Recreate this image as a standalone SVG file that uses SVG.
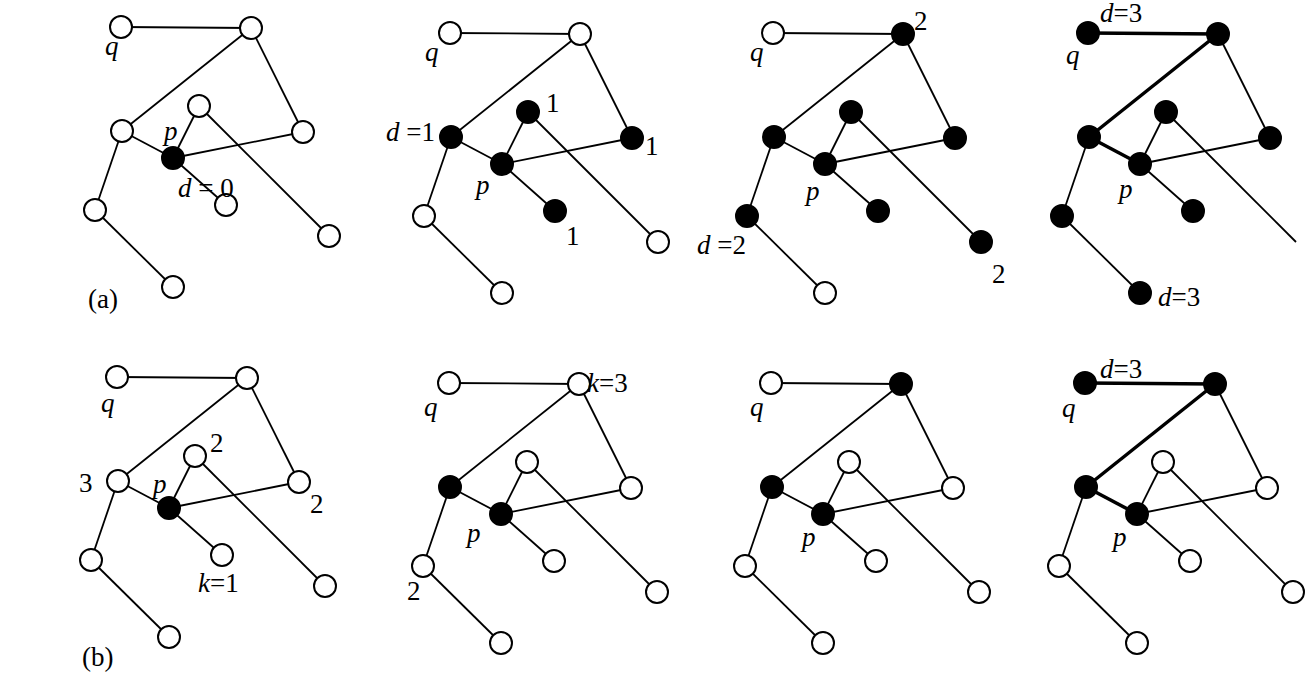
<svg xmlns="http://www.w3.org/2000/svg" width="1313" height="676" viewBox="0 0 1313 676">
<style>
.w{fill:#fff;stroke:#000;stroke-width:2}
.b{fill:#000;stroke:#000;stroke-width:2}
.t{stroke:#000;stroke-width:3.5}
text{font-family:"Liberation Serif",serif;font-size:27px}
.i{font-style:italic}
</style>
<rect width="1313" height="676" fill="#fff"/>
<defs>
<g id="E" stroke="#000" stroke-width="1.8">
<line x1="121" y1="27" x2="251" y2="28"/><line x1="251" y1="28" x2="122" y2="131"/><line x1="251" y1="28" x2="303" y2="132"/><line x1="122" y1="131" x2="95" y2="210"/><line x1="95" y1="210" x2="173" y2="287"/><line x1="122" y1="131" x2="173" y2="158"/><line x1="173" y1="158" x2="199" y2="106"/><line x1="173" y1="158" x2="303" y2="132"/><line x1="173" y1="158" x2="226" y2="205"/><line x1="199" y1="106" x2="329" y2="236"/>
</g>
</defs>
<g id="connectors">
<use href="#E"/>
<use href="#E" transform="translate(329,6)"/>
<use href="#E" transform="translate(652,6)"/>
<use href="#E" transform="translate(967,6)"/>
<use href="#E" transform="translate(-4,350)"/>
<use href="#E" transform="translate(328,356)"/>
<use href="#E" transform="translate(650,356)"/>
<use href="#E" transform="translate(964,356)"/>
<g transform="translate(967,6)"><line class="t" x1="121" y1="27" x2="251" y2="28"/><line class="t" x1="251" y1="28" x2="122" y2="131"/><line class="t" x1="122" y1="131" x2="173" y2="158"/></g>
<g transform="translate(964,356)"><line class="t" x1="121" y1="27" x2="251" y2="28"/><line class="t" x1="251" y1="28" x2="122" y2="131"/><line class="t" x1="122" y1="131" x2="173" y2="158"/></g>
</g>
<g id="a1">
<g id="a1q"><circle class="w" cx="121" cy="27" r="11"/></g><g id="a1T"><circle class="w" cx="251" cy="28" r="11"/></g><g id="a1L"><circle class="w" cx="122" cy="131" r="11"/></g><g id="a1U"><circle class="w" cx="199" cy="106" r="11"/></g><g id="a1p"><circle class="b" cx="173" cy="158" r="11"/></g><g id="a1R"><circle class="w" cx="303" cy="132" r="11"/></g><g id="a1S"><circle class="w" cx="226" cy="205" r="11"/></g><g id="a1LL"><circle class="w" cx="95" cy="210" r="11"/></g><g id="a1RL"><circle class="w" cx="329" cy="236" r="11"/></g><g id="a1B"><circle class="w" cx="173" cy="287" r="11"/></g>
</g>
<g id="a2" transform="translate(329,6)">
<g id="a2q"><circle class="w" cx="121" cy="27" r="11"/></g><g id="a2T"><circle class="w" cx="251" cy="28" r="11"/></g><g id="a2L"><circle class="b" cx="122" cy="131" r="11"/></g><g id="a2U"><circle class="b" cx="199" cy="106" r="11"/></g><g id="a2p"><circle class="b" cx="173" cy="158" r="11"/></g><g id="a2R"><circle class="b" cx="303" cy="132" r="11"/></g><g id="a2S"><circle class="b" cx="226" cy="205" r="11"/></g><g id="a2LL"><circle class="w" cx="95" cy="210" r="11"/></g><g id="a2RL"><circle class="w" cx="329" cy="236" r="11"/></g><g id="a2B"><circle class="w" cx="173" cy="287" r="11"/></g>
</g>
<g id="a3" transform="translate(652,6)">
<g id="a3q"><circle class="w" cx="121" cy="27" r="11"/></g><g id="a3T"><circle class="b" cx="251" cy="28" r="11"/></g><g id="a3L"><circle class="b" cx="122" cy="131" r="11"/></g><g id="a3U"><circle class="b" cx="199" cy="106" r="11"/></g><g id="a3p"><circle class="b" cx="173" cy="158" r="11"/></g><g id="a3R"><circle class="b" cx="303" cy="132" r="11"/></g><g id="a3S"><circle class="b" cx="226" cy="205" r="11"/></g><g id="a3LL"><circle class="b" cx="95" cy="210" r="11"/></g><g id="a3RL"><circle class="b" cx="329" cy="236" r="11"/></g><g id="a3B"><circle class="w" cx="173" cy="287" r="11"/></g>
</g>
<g id="a4" transform="translate(967,6)">
<g id="a4q"><circle class="b" cx="121" cy="27" r="11"/></g><g id="a4T"><circle class="b" cx="251" cy="28" r="11"/></g><g id="a4L"><circle class="b" cx="122" cy="131" r="11"/></g><g id="a4U"><circle class="b" cx="199" cy="106" r="11"/></g><g id="a4p"><circle class="b" cx="173" cy="158" r="11"/></g><g id="a4R"><circle class="b" cx="303" cy="132" r="11"/></g><g id="a4S"><circle class="b" cx="226" cy="205" r="11"/></g><g id="a4LL"><circle class="b" cx="95" cy="210" r="11"/></g><g id="a4B"><circle class="b" cx="173" cy="287" r="11"/></g>
</g>
<g id="b1" transform="translate(-4,350)">
<g id="b1q"><circle class="w" cx="121" cy="27" r="11"/></g><g id="b1T"><circle class="w" cx="251" cy="28" r="11"/></g><g id="b1L"><circle class="w" cx="122" cy="131" r="11"/></g><g id="b1U"><circle class="w" cx="199" cy="106" r="11"/></g><g id="b1p"><circle class="b" cx="173" cy="158" r="11"/></g><g id="b1R"><circle class="w" cx="303" cy="132" r="11"/></g><g id="b1S"><circle class="w" cx="226" cy="205" r="11"/></g><g id="b1LL"><circle class="w" cx="95" cy="210" r="11"/></g><g id="b1RL"><circle class="w" cx="329" cy="236" r="11"/></g><g id="b1B"><circle class="w" cx="173" cy="287" r="11"/></g>
</g>
<g id="b2" transform="translate(328,356)">
<g id="b2q"><circle class="w" cx="121" cy="27" r="11"/></g><g id="b2T"><circle class="w" cx="251" cy="28" r="11"/></g><g id="b2L"><circle class="b" cx="122" cy="131" r="11"/></g><g id="b2U"><circle class="w" cx="199" cy="106" r="11"/></g><g id="b2p"><circle class="b" cx="173" cy="158" r="11"/></g><g id="b2R"><circle class="w" cx="303" cy="132" r="11"/></g><g id="b2S"><circle class="w" cx="226" cy="205" r="11"/></g><g id="b2LL"><circle class="w" cx="95" cy="210" r="11"/></g><g id="b2RL"><circle class="w" cx="329" cy="236" r="11"/></g><g id="b2B"><circle class="w" cx="173" cy="287" r="11"/></g>
</g>
<g id="b3" transform="translate(650,356)">
<g id="b3q"><circle class="w" cx="121" cy="27" r="11"/></g><g id="b3T"><circle class="b" cx="251" cy="28" r="11"/></g><g id="b3L"><circle class="b" cx="122" cy="131" r="11"/></g><g id="b3U"><circle class="w" cx="199" cy="106" r="11"/></g><g id="b3p"><circle class="b" cx="173" cy="158" r="11"/></g><g id="b3R"><circle class="w" cx="303" cy="132" r="11"/></g><g id="b3S"><circle class="w" cx="226" cy="205" r="11"/></g><g id="b3LL"><circle class="w" cx="95" cy="210" r="11"/></g><g id="b3RL"><circle class="w" cx="329" cy="236" r="11"/></g><g id="b3B"><circle class="w" cx="173" cy="287" r="11"/></g>
</g>
<g id="b4" transform="translate(964,356)">
<g id="b4q"><circle class="b" cx="121" cy="27" r="11"/></g><g id="b4T"><circle class="b" cx="251" cy="28" r="11"/></g><g id="b4L"><circle class="b" cx="122" cy="131" r="11"/></g><g id="b4U"><circle class="w" cx="199" cy="106" r="11"/></g><g id="b4p"><circle class="b" cx="173" cy="158" r="11"/></g><g id="b4R"><circle class="w" cx="303" cy="132" r="11"/></g><g id="b4S"><circle class="w" cx="226" cy="205" r="11"/></g><g id="b4LL"><circle class="w" cx="95" cy="210" r="11"/></g><g id="b4RL"><circle class="w" cx="329" cy="236" r="11"/></g><g id="b4B"><circle class="w" cx="173" cy="287" r="11"/></g>
</g>
<g id="labels">
<text x="88" y="308">(a)</text><text x="82" y="666">(b)</text>
<text class="i" x="105" y="55">q</text><text class="i" x="164" y="140">p</text><text x="178" y="197"><tspan class="i">d</tspan> = 0</text>
<text class="i" x="425" y="61">q</text><text x="386" y="141"><tspan class="i">d</tspan> =1</text><text x="546" y="112">1</text><text x="645" y="155">1</text><text class="i" x="476" y="194">p</text><text x="566" y="245">1</text>
<text class="i" x="750" y="61">q</text><text x="914" y="30">2</text><text class="i" x="806" y="200">p</text><text x="697" y="254"><tspan class="i">d</tspan> =2</text><text x="992" y="283">2</text>
<text x="1100" y="22"><tspan class="i">d</tspan>=3</text><text class="i" x="1066" y="64">q</text><text class="i" x="1119" y="198">p</text><text x="1158" y="306"><tspan class="i">d</tspan>=3</text>
<text class="i" x="101" y="412">q</text><text x="79" y="492">3</text><text class="i" x="153" y="493">p</text><text x="210" y="452">2</text><text x="310" y="513">2</text><text x="198" y="592"><tspan class="i">k</tspan>=1</text>
<text class="i" x="424" y="416">q</text><text x="587" y="392"><tspan class="i">k</tspan>=3</text><text class="i" x="467" y="542">p</text><text x="407" y="600">2</text>
<text class="i" x="750" y="416">q</text><text class="i" x="802" y="546">p</text>
<text x="1100" y="378"><tspan class="i">d</tspan>=3</text><text class="i" x="1062" y="417">q</text><text class="i" x="1113" y="546">p</text>
</g>
</svg>
